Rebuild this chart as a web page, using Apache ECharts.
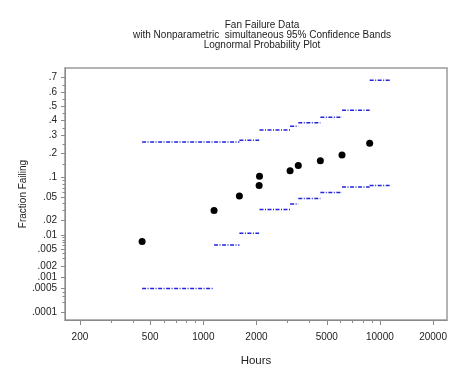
<!DOCTYPE html>
<html>
<head>
<meta charset="utf-8">
<script src="https://cdn.jsdelivr.net/npm/echarts@6/dist/echarts.min.js"></script>
<style>html,body{margin:0;padding:0;background:#fff;}#c{width:474px;height:379px;}</style>
</head>
<body>
<div id="c"></div>
<script>
// ---- data ----
const hours = [450, 1150, 1600, 2070, 2080, 3100, 3450, 4600, 6100, 8750];
const fractionFailing = [0.0074, 0.030, 0.053, 0.077, 0.104, 0.1226, 0.143, 0.164, 0.191, 0.254];
const bandEdges = [450, 1150, 1600, 2070, 2080, 3100, 3450, 4600, 6100, 8750, 11500];
const upperBand = [0.261, 0.261, 0.271, 0.315, 0.336, 0.361, 0.385, 0.423, 0.473, 0.683];
const lowerBand = [0.0005, 0.0062, 0.011, 0.0235, 0.0315, 0.039, 0.0484, 0.0602, 0.0727, 0.0768];
const xTickValues = [200, 500, 1000, 2000, 5000, 10000, 20000];
const xTickLabels = ['200', '500', '1000', '2000', '5000', '10000', '20000'];
const xMinorValues = [300, 400, 600, 700, 800, 900, 3000, 4000, 6000, 7000, 8000, 9000];
const yTickValues = [0.0001, 0.0005, 0.001, 0.002, 0.005, 0.01, 0.02, 0.05, 0.1, 0.2, 0.3, 0.4, 0.5, 0.6, 0.7];
const yTickLabels = ['.0001', '.0005', '.001', '.002', '.005', '.01', '.02', '.05', '.1', '.2', '.3', '.4', '.5', '.6', '.7'];
const yMinorValues = [0.0002, 0.0003, 0.0004, 0.003, 0.004, 0.006, 0.007, 0.008, 0.009, 0.03, 0.04, 0.06, 0.07, 0.08, 0.09, 0.15, 0.25, 0.35, 0.45, 0.55, 0.65];

// ---- scale transforms ----
function probit(p) {
  const a = [-3.969683028665376e+01, 2.209460984245205e+02, -2.759285104469687e+02, 1.383577518672690e+02, -3.066479806614716e+01, 2.506628277459239e+00];
  const b = [-5.447609879822406e+01, 1.615858368580409e+02, -1.556989798598866e+02, 6.680131188771972e+01, -1.328068155288572e+01];
  const c = [-7.784894002430293e-03, -3.223964580411365e-01, -2.400758277161838e+00, -2.549732539343734e+00, 4.374664141464968e+00, 2.938163982698783e+00];
  const d = [7.784695709041462e-03, 3.224671290700398e-01, 2.445134137142996e+00, 3.754408661907416e+00];
  const pl = 0.02425, ph = 1 - pl;
  let q, r;
  if (p < pl) { q = Math.sqrt(-2 * Math.log(p)); return (((((c[0]*q+c[1])*q+c[2])*q+c[3])*q+c[4])*q+c[5]) / ((((d[0]*q+d[1])*q+d[2])*q+d[3])*q+1); }
  if (p > ph) { q = Math.sqrt(-2 * Math.log(1 - p)); return -(((((c[0]*q+c[1])*q+c[2])*q+c[3])*q+c[4])*q+c[5]) / ((((d[0]*q+d[1])*q+d[2])*q+d[3])*q+1); }
  q = p - 0.5; r = q * q;
  return (((((a[0]*r+a[1])*r+a[2])*r+a[3])*r+a[4])*r+a[5])*q / (((((b[0]*r+b[1])*r+b[2])*r+b[3])*r+b[4])*r+1);
}
const lx = v => Math.log10(v);

const xMin = 2.2165, xMax = 4.380;
const yMin = -3.859, yMax = 0.698;

function labelFor(vals, labels, tf) {
  return function (v) {
    let best = 0, bd = Infinity;
    vals.forEach((t, i) => { const d = Math.abs(tf(t) - v); if (d < bd) { bd = d; best = i; } });
    return bd < 1e-6 ? labels[best] : '';
  };
}

const txt = { fontFamily: 'Liberation Sans, Arial, sans-serif', color: '#222' };
const axisGray = '#8a8a8a';

const series = [];
const bandStyle = { color: '#2424d8', width: 1.5, type: [4, 1.5, 1, 1.5] };
function addBand(vals) {
  for (let i = 0; i < vals.length; i++) {
    series.push({
      type: 'line', xAxisIndex: 0, yAxisIndex: 0, symbol: 'none', silent: true,
      lineStyle: bandStyle,
      data: [[lx(bandEdges[i]), probit(vals[i])], [lx(bandEdges[i + 1]), probit(vals[i])]]
    });
  }
}
addBand(upperBand);
addBand(lowerBand);
series.push({
  type: 'scatter', xAxisIndex: 0, yAxisIndex: 0, symbol: 'circle', symbolSize: 7,
  itemStyle: { color: '#000', opacity: 1 },
  data: hours.map((h, i) => [lx(h), probit(fractionFailing[i])])
});

const option = {
  backgroundColor: '#fff',
  animation: false,
  title: {
    text: 'Fan Failure Data\nwith Nonparametric  simultaneous 95% Confidence Bands\nLognormal Probability Plot',
    left: 257, top: 15, textAlign: 'center',
    textStyle: Object.assign({ fontSize: 10, lineHeight: 10, fontWeight: 'normal' }, txt)
  },
  grid: { left: 65, right: 27, top: 68, bottom: 59, show: true, borderColor: '#9a9a9a', borderWidth: 1.5, backgroundColor: '#fff' },
  xAxis: [{
    type: 'value', min: xMin, max: xMax, position: 'bottom',
    name: 'Hours', nameLocation: 'middle', nameGap: 35, nameMoveOverlap: false,
    nameTextStyle: Object.assign({ fontSize: 11.5 }, txt),
    axisLine: { show: true, onZero: false, lineStyle: { color: axisGray } },
    axisTick: { show: true, length: 5, customValues: xTickValues.map(lx), lineStyle: { color: axisGray } },
    axisLabel: { show: true, customValues: xTickValues.map(lx), formatter: labelFor(xTickValues, xTickLabels, lx), fontSize: 10, margin: 12, ...txt },
    splitLine: { show: false }
  }, {
    type: 'value', min: xMin, max: xMax, position: 'bottom', offset: 0,
    axisLine: { show: false, onZero: false },
    axisTick: { show: true, length: 3, customValues: xMinorValues.map(lx), lineStyle: { color: axisGray } },
    axisLabel: { show: false }, splitLine: { show: false }
  }],
  yAxis: [{
    type: 'value', min: yMin, max: yMax, position: 'left',
    name: 'Fraction Failing', nameLocation: 'middle', nameGap: 37, nameRotate: 90, nameMoveOverlap: false,
    nameTextStyle: Object.assign({ fontSize: 10 }, txt),
    axisLine: { show: true, onZero: false, lineStyle: { color: axisGray } },
    axisTick: { show: true, length: 4, customValues: yTickValues.map(probit), lineStyle: { color: axisGray } },
    axisLabel: { show: true, customValues: yTickValues.map(probit), formatter: labelFor(yTickValues, yTickLabels, probit), fontSize: 10, margin: 8, ...txt },
    splitLine: { show: false }
  }, {
    type: 'value', min: yMin, max: yMax, position: 'left', offset: 0,
    axisLine: { show: false, onZero: false },
    axisTick: { show: true, length: 2.5, customValues: yMinorValues.map(probit), lineStyle: { color: axisGray } },
    axisLabel: { show: false }, splitLine: { show: false }
  }],
  series: series
};

const chart = echarts.init(document.getElementById('c'), null, { renderer: 'canvas' });
chart.setOption(option);
</script>
</body>
</html>
